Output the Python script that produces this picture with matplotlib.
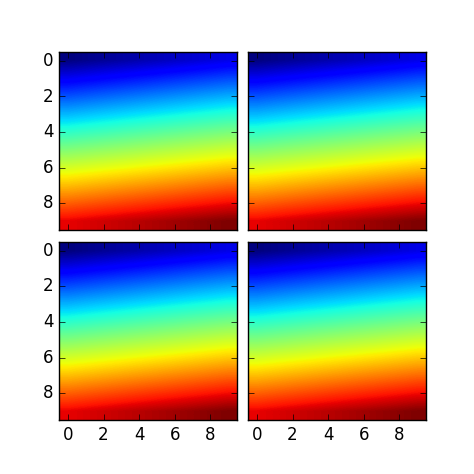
import matplotlib
matplotlib.use("Agg")
import matplotlib.pyplot as plt
import numpy as np

plt.style.use("classic")

# 10x10 grid of values, row by row
rows = [
    [0, 1, 2, 3, 4, 5, 6, 7, 8, 9],
    [10, 11, 12, 13, 14, 15, 16, 17, 18, 19],
    [20, 21, 22, 23, 24, 25, 26, 27, 28, 29],
    [30, 31, 32, 33, 34, 35, 36, 37, 38, 39],
    [40, 41, 42, 43, 44, 45, 46, 47, 48, 49],
    [50, 51, 52, 53, 54, 55, 56, 57, 58, 59],
    [60, 61, 62, 63, 64, 65, 66, 67, 68, 69],
    [70, 71, 72, 73, 74, 75, 76, 77, 78, 79],
    [80, 81, 82, 83, 84, 85, 86, 87, 88, 89],
    [90, 91, 92, 93, 94, 95, 96, 97, 98, 99],
]
ticks = [0, 2, 4, 6, 8]

data = np.array(rows, dtype=float)
W = H = 474.0
fig = plt.figure(figsize=(4.74, 4.74), dpi=100, facecolor="white")

lefts = [59, 248]
tops = [52, 242]
size = 178
for r, top in enumerate(tops):
    for c, left in enumerate(lefts):
        ax = fig.add_axes([left / W, 1 - (top + size) / H, size / W, size / H])
        ax.imshow(data, cmap="jet", interpolation="bilinear", aspect="auto")
        ax.set_xticks(ticks)
        ax.set_yticks(ticks)
        ax.set_xlim(-0.5, 9.5)
        ax.set_ylim(9.5, -0.5)
        if r == 0:
            ax.set_xticklabels([])
        if c == 1:
            ax.set_yticklabels([])

fig.savefig("out.png", dpi=100, facecolor="white")
